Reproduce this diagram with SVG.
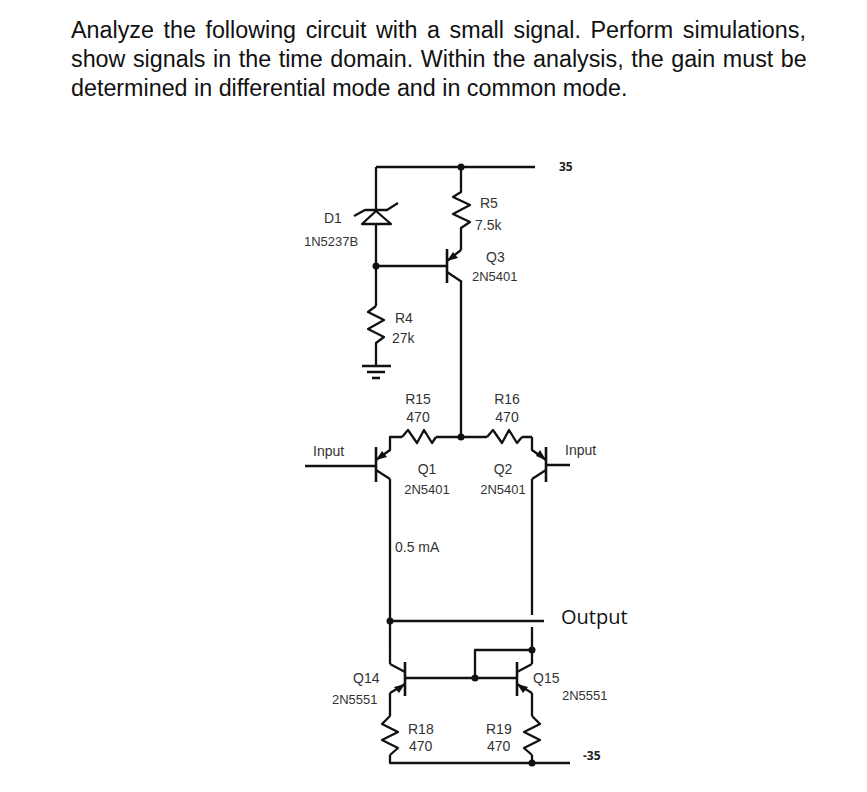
<svg xmlns="http://www.w3.org/2000/svg" width="867" height="792" viewBox="0 0 867 792">
<style>
text{font-family:"Liberation Sans",Arial,sans-serif;fill:#333}
.h{font-size:23.3px;fill:#111}
.l{font-size:14px}
.s{font-size:13px}
.c{text-anchor:middle}
.b{font-family:"Noto Sans",sans-serif;font-weight:700;font-size:12px;fill:#222}
.w{fill:none;stroke:#111;stroke-width:2.3;stroke-linejoin:round}
.t{fill:none;stroke:#111;stroke-width:2.6}
.d{fill:#111}
</style>
<rect width="867" height="792" fill="#fff"/>
<g id="prompt">
<text class="h" x="71" y="38" word-spacing="3.1">Analyze the following circuit with a small signal. Perform simulations,</text>
<text class="h" x="71" y="67" word-spacing="1.1">show signals in the time domain. Within the analysis, the gain must be</text>
<text class="h" x="71" y="96">determined in differential mode and in common mode.</text>
</g>
<g id="connectors">
<path class="w" d="M376 167H535M461 167V192L453 197L470 205L453 214L470 222L461 228V250"/>
<path class="w" d="M376 167V211M376 224V306M376 266H447"/>
<path class="w" d="M461 282V437M391 437H402M436 437H487M522 437H532"/>
<path class="w" d="M390 479V664M532 479V615M532 627V664M390 621H544M475 678V650H532M405 678H517"/>
<path class="w" d="M390 693V716M532 693V716M390 755V763H570M532 755V763"/>
<path class="w" d="M305 466H376M546 465H570"/>
</g>
<g id="D1"><path class="w" d="M376 211L362 224H391Z M354 216L365 210H387L398 203"/><text class="l" x="324" y="223">D1</text><text class="s" x="304" y="246">1N5237B</text></g>
<g id="R5"><text class="l" x="480" y="208">R5</text><text class="l" x="475" y="230">7.5k</text></g>
<g id="Q3"><path class="t" d="M447 249V283"/><path class="w" d="M461 250L447 261M447 272L462 282"/><path class="d" d="M447 261L453 252L458 258Z"/><text class="l" x="486" y="262">Q3</text><text class="s" x="472" y="281">2N5401</text></g>
<g id="R4"><path class="w" d="M376 306L368 312L384 320L368 329L384 337L376 343V366"/><text class="l" x="395" y="323">R4</text><text class="l" x="392" y="343">27k</text></g>
<g id="ground"><path class="w" d="M362 366H391M367 372H385M372 378H380"/></g>
<g id="R15"><path class="w" d="M402 437L408 430L417 443L424 430L432 443L436 437"/><text class="l c" x="418" y="404">R15</text><text class="l c" x="418" y="422">470</text></g>
<g id="R16"><path class="w" d="M487 437L493 430L502 443L509 430L517 443L522 437"/><text class="l c" x="507" y="404">R16</text><text class="l c" x="507" y="422">470</text></g>
<g id="Q1"><path class="t" d="M376 447V482"/><path class="w" d="M391 437H390V450L376 460M376 470L390 479"/><path class="d" d="M376 460L382 451L387 457Z"/><text class="l c" x="427" y="474">Q1</text><text class="s c" x="427" y="494">2N5401</text><text class="l" x="313" y="456">Input</text></g>
<g id="Q2"><path class="t" d="M546 447V482"/><path class="w" d="M532 437V450L546 460M546 470L532 479"/><path class="d" d="M546 460L536 456L540 450Z"/><text class="l c" x="503" y="474">Q2</text><text class="s c" x="503" y="494">2N5401</text><text class="l" x="565" y="455">Input</text></g>
<g id="current"><text class="l" x="395" y="552">0.5 mA</text></g>
<g id="Q14"><path class="t" d="M405 662V696"/><path class="w" d="M390 664L405 672M405 684L390 693"/><path class="d" d="M405 684L394 687L399 693Z"/><text class="l" x="353" y="683">Q14</text><text class="s" x="332" y="704">2N5551</text></g>
<g id="Q15"><path class="t" d="M517 662V696"/><path class="w" d="M532 664L517 672M517 684L532 693"/><path class="d" d="M517 684L528 687L523 693Z"/><text class="l" x="533" y="683">Q15</text><text class="s" x="562" y="700">2N5551</text></g>
<g id="R18"><path class="w" d="M390 716L382 724L398 732L382 740L398 748L390 755"/><text class="l" x="408" y="734">R18</text><text class="l" x="409" y="751">470</text></g>
<g id="R19"><path class="w" d="M532 716L540 724L524 732L540 740L524 748L532 755"/><text class="l" x="486" y="734">R19</text><text class="l" x="487" y="751">470</text></g>
<g id="junctions" class="d"><circle cx="461" cy="167" r="3.5"/><circle cx="376" cy="266" r="3.5"/><circle cx="461" cy="437" r="3.5"/><circle cx="390" cy="621" r="3.5"/><circle cx="532" cy="650" r="3.5"/><circle cx="475" cy="678" r="3.5"/><circle cx="532" cy="763" r="3.5"/></g>
<g id="labels"><text class="b" x="559" y="171">35</text><text class="b" x="583" y="760">-35</text><text x="561" y="624" style="font-family:'Open Sans',sans-serif;font-size:20px;fill:#111">Output</text></g>
</svg>
